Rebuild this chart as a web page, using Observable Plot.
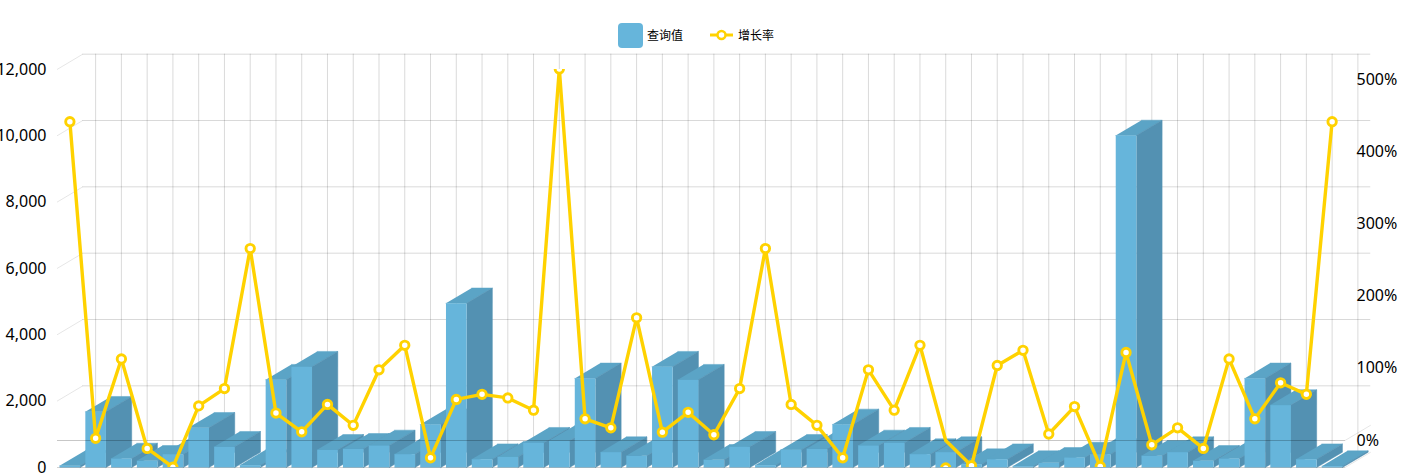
<!DOCTYPE html>
<html>
<head>
<meta charset="utf-8">
<script src="https://cdn.jsdelivr.net/npm/d3@7"></script>
<script src="https://cdn.jsdelivr.net/npm/@observablehq/plot@0.6"></script>
<style>
html,body{margin:0;padding:0;background:#fff;overflow:hidden}
#legend{position:relative;height:50px;width:1410px;font:12px "Noto Sans CJK SC","Noto Sans",sans-serif;color:#000}
#legend span,#legend i,#legend svg{position:absolute;display:block}
#chart svg{display:block}
</style>
</head>
<body>
<div id="legend">
  <i style="left:618px;top:23px;width:25px;height:25px;border-radius:4px;background:#66b5db"></i>
  <span style="left:647px;top:26px;line-height:17px">查询值</span>
  <svg style="left:710px;top:28px" width="24" height="14"><line x1="0" x2="23" y1="7" y2="7" stroke="#ffd200" stroke-width="3"/><circle cx="11.5" cy="7" r="4" fill="#fff" stroke="#ffd200" stroke-width="2.5"/></svg>
  <span style="left:738px;top:26px;line-height:17px">增长率</span>
</div>
<div id="chart"></div>
<script>
const queryValues = [50,1680,270,200,400,1197,624,70,2646,3038,533,563,664,402,1298,4950,
  250,320,745,805,2686,463,352,3038,2646,231,624,70,533,563,1298,664,745,402,463,
  100,250,40,140,300,402,10010,352,463,200,270,2686,1881,250,40];
const growthRates = [442,3,113,-11,-37,48,72,266,38,12,50,21,98,132,-24,57,
  64,59,42,515,30,17.6,170,11.6,39,8,72,266,50,21,-24,98,42,132,0,
  -35,104,125,9,47,-36,122,-6,17.6,-11,113,30,80,64,442];
// index 34: the reference draws this bullet at the floor while the line bends at 0%
const bulletRates = growthRates.map((v, i) => i === 34 ? -38 : v);
const leftTicks = [2000,4000,6000,8000,10000,12000];
const leftLabels = [0, ...leftTicks];
const rightLabels = [0,100,200,300,400,500];

const depthValue = 462;
const halfBar = 0.4;
const toLeft = d3.scaleLinear([0,500],[814, 814 + 500*21.75]);
const idx = d3.range(queryValues.length);
const colFront = "#66b5db", colSide = "#5391b2", colTop = "#5ba4c6";

const faces = idx.flatMap(i => {
  const v = queryValues[i], r = i + halfBar, l = i - halfBar;
  return [
    ...[[l,v],[r,v],[r+1,v+depthValue],[l+1,v+depthValue]].map(([x,y]) => ({x,y,id:"t"+i,c:colTop})),
    ...[[r,0],[r+1,depthValue],[r+1,v+depthValue],[r,v]].map(([x,y]) => ({x,y,id:"s"+i,c:colSide}))
  ];
});

const shift = {dx:-0.5};
const gridStroke = {stroke:"#000", strokeOpacity:0.15, strokeWidth:1, ...shift};
const diagStroke = {stroke:"#000", strokeOpacity:0.1, strokeWidth:1, ...shift};

const plot = Plot.plot({
  width:1410, height:424,
  marginLeft:57, marginRight:65, marginTop:19, marginBottom:7,
  style:{background:"#fff", fontFamily:'"Noto Sans",sans-serif', color:"#000"},
  x:{type:"linear", domain:[-0.5,49.5], axis:null},
  y:{type:"linear", domain:[0,12000], axis:null},
  color:{type:"identity"},
  marks:[
    Plot.ruleY(leftTicks,{y:d=>d+depthValue, x1:0.5, x2:50.5, ...gridStroke}),
    Plot.ruleX(idx,{x:d=>d+1, y1:depthValue, y2:12000+depthValue, ...gridStroke}),
    Plot.link(leftTicks,{x1:-0.5,x2:0.5,y1:d=>d,y2:d=>d+depthValue, ...diagStroke}),
    Plot.line(faces,{x:"x",y:"y",z:"id",fill:"c",stroke:"c",strokeWidth:0.5,dx:-0.5}),
    Plot.rect(idx,{x1:d=>d-halfBar,x2:d=>d+halfBar,y1:0,y2:d=>queryValues[d],fill:colFront,inset:0,dy:0.5}),
    Plot.ruleY([0],{x1:-0.5,x2:49.5,stroke:"#000",strokeOpacity:0.18}),
    Plot.link([0],{x1:49.5,x2:50.5,y1:0,y2:depthValue,...diagStroke}),
    Plot.ruleY([toLeft(0)],{x1:-0.5,x2:49.5,stroke:"#000",strokeOpacity:0.22}),
    Plot.link([toLeft(0)],{x1:49.5,x2:50.5,y1:d=>d,y2:d=>d+depthValue,...diagStroke}),
    Plot.line(idx,{x:d=>d,y:d=>toLeft(growthRates[d]),stroke:"#ffd200",strokeWidth:3.4,clip:true,...shift}),
    Plot.dot(idx,{x:d=>d,y:d=>toLeft(bulletRates[d]),r:4.2,fill:"#fff",stroke:"#ffd200",strokeWidth:2.9,clip:true,...shift}),
    Plot.axisY({anchor:"left",ticks:leftLabels,tickSize:0,tickPadding:11,tickFormat:d3.format(","),label:null,fontSize:16,fill:"#000"}),
    Plot.axisY({anchor:"right",ticks:rightLabels.map(d=>toLeft(d)),tickSize:0,tickPadding:11,tickFormat:d=>Math.round(toLeft.invert(d))+"%",label:null,fontSize:16,fill:"#000"})
  ]
});
document.getElementById("chart").appendChild(plot);
</script>
</body>
</html>
